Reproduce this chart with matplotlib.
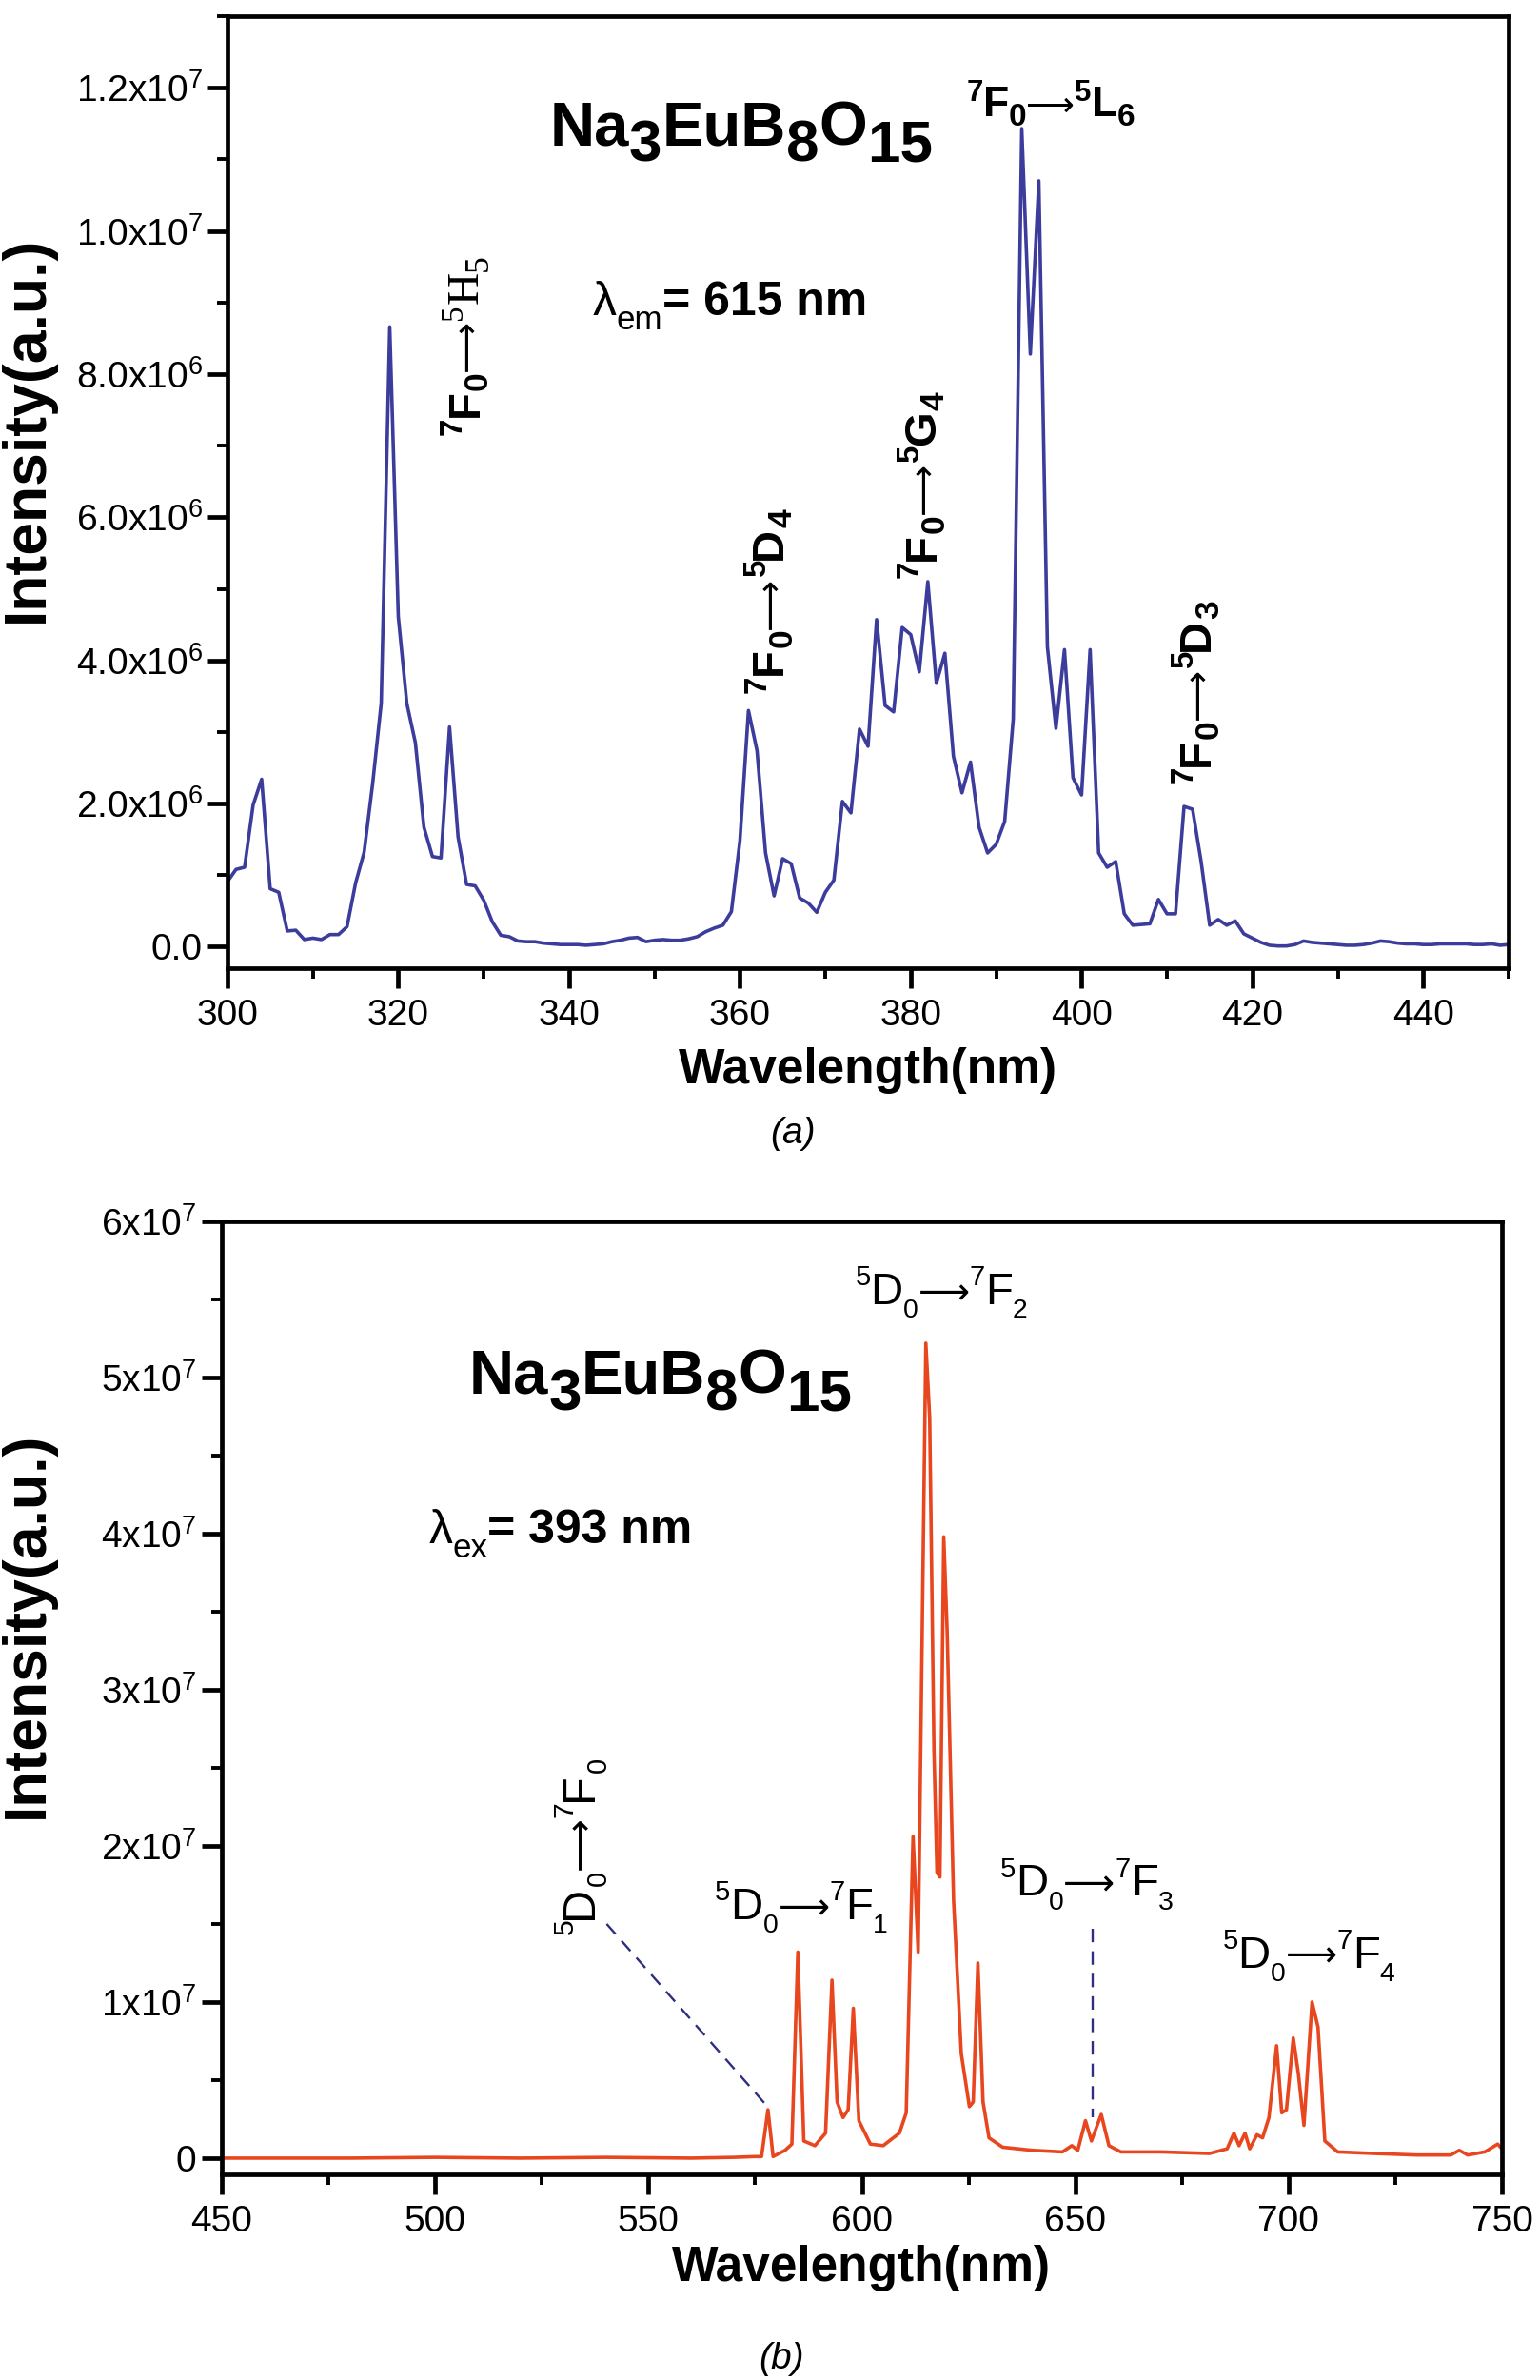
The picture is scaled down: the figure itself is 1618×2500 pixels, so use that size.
import matplotlib
matplotlib.use('Agg')
import matplotlib.pyplot as plt
import numpy as np
from matplotlib.ticker import MultipleLocator, FuncFormatter

plt.rcParams['font.family'] = ['Liberation Sans', 'DejaVu Sans']
plt.rcParams['mathtext.fontset'] = 'custom'
plt.rcParams['mathtext.rm'] = 'Liberation Sans'
plt.rcParams['mathtext.it'] = 'Liberation Sans:italic'
plt.rcParams['mathtext.bf'] = 'Liberation Sans:bold'

# (a) excitation spectrum, lambda_em = 615 nm, intensity in 1e6
exc_wl = list(range(300, 451))
exc_int = [0.91, 1.08, 1.11, 1.98, 2.34, 0.81, 0.76, 0.22, 0.23, 0.10,
           0.12, 0.10, 0.17, 0.17, 0.28, 0.89, 1.32, 2.28, 3.40, 8.66,
           4.61, 3.40, 2.85, 1.67, 1.26, 1.24, 3.07, 1.53, 0.87, 0.85,
           0.65, 0.35, 0.16, 0.14, 0.08, 0.07, 0.07, 0.05, 0.04, 0.03,
           0.03, 0.03, 0.02, 0.03, 0.04, 0.07, 0.09, 0.12, 0.13, 0.07,
           0.09, 0.10, 0.09, 0.09, 0.11, 0.14, 0.21, 0.26, 0.30, 0.49,
           1.48, 3.30, 2.74, 1.31, 0.71, 1.23, 1.16, 0.68, 0.61, 0.48,
           0.76, 0.93, 2.03, 1.87, 3.04, 2.80, 4.57, 3.37, 3.28, 4.46,
           4.36, 3.84, 5.10, 3.68, 4.10, 2.66, 2.15, 2.58, 1.67, 1.31,
           1.43, 1.75, 3.18, 11.43, 8.28, 10.70, 4.19, 3.05, 4.15, 2.36,
           2.12, 4.15, 1.31, 1.11, 1.19, 0.46, 0.30, 0.31, 0.32, 0.66,
           0.46, 0.46, 1.96, 1.92, 1.19, 0.30, 0.38, 0.30, 0.36, 0.18,
           0.12, 0.06, 0.02, 0.01, 0.01, 0.03, 0.08, 0.06, 0.05, 0.04,
           0.03, 0.02, 0.02, 0.03, 0.05, 0.08, 0.07, 0.05, 0.04, 0.04,
           0.03, 0.03, 0.04, 0.04, 0.04, 0.04, 0.03, 0.03, 0.04, 0.02,
           0.03]

# (b) emission spectrum, lambda_ex = 393 nm, intensity in 1e7
em_wl = [450, 480, 500, 520, 540, 560, 570, 575, 576.5, 578, 579.2, 582, 583.6,
         585, 586.4, 589, 591.5, 593, 594.2, 595.6, 596.8, 598, 599.3, 602, 605,
         608.8, 610.4, 612, 613.2, 615, 615.9, 616.9, 617.6, 618.3, 619.2, 620,
         621.5, 623.3, 625.2, 626.1, 627.2, 628.4, 629.8, 633, 640, 647, 649.2,
         650.6, 652.4, 653.8, 656.1, 657.9, 660.7, 670, 681.5, 685.6, 687.2,
         688.4, 689.8, 690.9, 692.6, 693.9, 695.4, 697.2, 698.4, 699.5, 701.1,
         702.3, 703.6, 705.5, 706.9, 708.5, 711.5, 720, 730, 738, 740, 742, 746,
         749, 750]
em_int = [0.0, 0.0, 0.005, 0.0, 0.005, 0.0, 0.005, 0.01, 0.01, 0.31, 0.01, 0.05,
          0.09, 1.32, 0.11, 0.08, 0.16, 1.14, 0.36, 0.26, 0.31, 0.96, 0.24, 0.09,
          0.08, 0.16, 0.29, 2.06, 1.32, 5.22, 4.74, 2.61, 1.83, 1.80, 3.98, 3.37,
          1.65, 0.67, 0.33, 0.36, 1.25, 0.36, 0.13, 0.07, 0.05, 0.04, 0.08, 0.05,
          0.24, 0.11, 0.28, 0.08, 0.04, 0.04, 0.03, 0.06, 0.16, 0.08, 0.16, 0.06,
          0.15, 0.13, 0.26, 0.72, 0.29, 0.31, 0.77, 0.54, 0.21, 1.00, 0.84, 0.11,
          0.04, 0.03, 0.02, 0.02, 0.05, 0.02, 0.04, 0.09, 0.06]

# guide lines in panel (b): (x0, x1), (y0, y1) in nm / 1e7
f0_guide = ([540.2, 577.9], [1.50, 0.33])
f3_guide = ([654.2, 654.2], [1.47, 0.26])

W, H = 1618, 2500
fig = plt.figure(figsize=(W / 100, H / 100), dpi=100)
ax1 = fig.add_axes([239 / W, 1 - 1017 / H, 1346 / W, 1000 / H])
ax2 = fig.add_axes([233 / W, 1 - 2284 / H, 1345 / W, 1001 / H])

ax1.plot(exc_wl, np.array(exc_int) * 1e6, color='#3c3c9c', lw=2.6)
ax2.plot(em_wl, np.array(em_int) * 1e7, color='#e8461e', lw=2.6)
for g in (f0_guide, f3_guide):
    ax2.plot(g[0], np.array(g[1]) * 1e7, color='#2e2e80', lw=1.7, ls=(0, (6, 4)))

ax1.set_xlim(300, 450)
ax1.set_ylim(-3e5, 1.3e7)
ax2.set_xlim(450, 750)
ax2.set_ylim(-1.04e6, 6e7)


def fmt_a(v, pos):
    if v < -1:
        return ''
    if abs(v) < 1:
        return '0.0'
    e = int(np.floor(np.log10(v)))
    return '%.1fx10$^{%d}$' % (v / 10 ** e, e)


def fmt_b(v, pos):
    if v < -1:
        return ''
    if abs(v) < 1:
        return '0'
    return '%dx10$^{7}$' % round(v / 1e7)


for ax in (ax1, ax2):
    for s in ax.spines.values():
        s.set_linewidth(3.4)
    ax.tick_params(which='both', direction='out', top=False, right=False,
                   labelsize=28, width=3.4)
    ax.tick_params(which='major', length=15)
    ax.tick_params(which='minor', length=8, width=2.8)
    ax.tick_params(axis='x', pad=8)
    ax.tick_params(axis='y', pad=4)

ax1.xaxis.set_major_locator(MultipleLocator(20))
ax1.xaxis.set_minor_locator(MultipleLocator(10))
ax1.yaxis.set_major_locator(MultipleLocator(2e6))
ax1.yaxis.set_minor_locator(MultipleLocator(1e6))
ax1.yaxis.set_major_formatter(FuncFormatter(fmt_a))
ax2.xaxis.set_major_locator(MultipleLocator(50))
ax2.xaxis.set_minor_locator(MultipleLocator(25))
ax2.yaxis.set_major_locator(MultipleLocator(1e7))
ax2.yaxis.set_minor_locator(MultipleLocator(5e6))
ax2.yaxis.set_major_formatter(FuncFormatter(fmt_b))

renderer = fig.canvas.get_renderer()


def rich(ax, x, y, parts, size, rot=0, weight='bold'):
    # lay out pieces one after another, with raised / lowered pieces
    px, py = ax.transData.transform((x, y))
    em = size * 100 / 72
    pos = 0
    for p in parts:
        s, scale, shift = p[:3]
        kw = dict(fontweight=weight)
        if len(p) > 3:
            kw.update(p[3])
        if rot == 0:
            tx, ty = px + pos, py + shift * em
        else:
            tx, ty = px - shift * em, py + pos
        t = fig.text(tx / W, ty / H, s, fontsize=size * scale, rotation=rot,
                     rotation_mode='anchor', ha='left', va='baseline', **kw)
        bb = t.get_window_extent(renderer)
        pos += bb.width if rot == 0 else bb.height


SUP = (0.7, 0.36)
SUB = (0.75, -0.21)
ARROW = ('\u27f6', 0.8, 0.02, {'family': ['DejaVu Sans'], 'fontweight': 'normal'})
serif = {'family': ['Liberation Serif', 'DejaVu Serif'], 'fontweight': 'normal'}


def trans(a, c, d, sup=SUP, sub=SUB, last_kw=None):
    tail = [(c, *sup), (d[0], 1, 0), (d[1], *sub)]
    if last_kw:
        tail = [t + (last_kw,) for t in tail]
    return [(a[0], *sup), (a[1], 1, 0), (a[2], *sub), ARROW] + tail


formula = [('Na', 1, 0), ('3', 0.95, -0.27), ('EuB', 1, 0), ('8', 0.95, -0.27),
           ('O', 1, 0), ('15', 0.95, -0.27)]

# panel (a) texts
rich(ax1, 337.7, 11.2e6, formula, 47)
rich(ax1, 342.7, 8.83e6, [('\u03bb', 1, 0, {'fontweight': 'normal'}),
                          ('em', 0.7, -0.3, {'fontweight': 'normal'}),
                          ('= 615 nm', 1, 0)], 36)
rich(ax1, 386.5, 11.6e6, trans('7F0', '5', 'L6'), 32)
rich(ax1, 329.3, 7.15e6, trans('7F0', '5', 'H5', last_kw=serif), 34, rot=90)
rich(ax1, 364.9, 3.55e6, trans('7F0', '5', 'D4'), 34, rot=90)
rich(ax1, 382.8, 5.15e6, trans('7F0', '5', 'G4'), 34, rot=90)
rich(ax1, 414.9, 2.28e6, trans('7F0', '5', 'D3'), 34, rot=90)

# panel (b) texts
SUPb = (0.62, 0.42)
SUBb = (0.6, -0.3)
rich(ax2, 508, 4.9e7, formula, 47)
rich(ax2, 498.5, 3.94e7, [('\u03bb', 1, 0, {'fontweight': 'normal'}),
                          ('ex', 0.7, -0.3, {'fontweight': 'normal'}),
                          ('= 393 nm', 1, 0)], 36)
for lx, ly, n in [(598.4, 5.47e7, '2'), (565.6, 1.53e7, '1'),
                  (632.5, 1.68e7, '3'), (684.5, 1.22e7, '4')]:
    rich(ax2, lx, ly, trans('5D0', '7', 'F' + n, SUPb, SUBb), 34, weight='normal')
rich(ax2, 536.8, 1.43e7, trans('5D0', '7', 'F0', SUPb, SUBb), 35, rot=90,
     weight='normal')

# axis titles
fig.text(912 / W, 1 - 1138 / H, 'Wavelength(nm)', fontsize=37, fontweight='bold',
         ha='center', va='baseline')
fig.text(905 / W, 1 - 2396 / H, 'Wavelength(nm)', fontsize=37, fontweight='bold',
         ha='center', va='baseline')
fig.text(28 / W, 1 - 451 / H, 'Intensity(a.u.)', fontsize=45, fontweight='bold',
         rotation=90, ha='center', va='center')
fig.text(28 / W, 1 - 1707 / H, 'Intensity(a.u.)', fontsize=45, fontweight='bold',
         rotation=90, ha='center', va='center')
fig.text(833 / W, 1 - 1191 / H, '(a)', fontsize=28, style='italic',
         ha='center', va='center')
fig.text(821 / W, 1 - 2478 / H, '(b)', fontsize=28, style='italic',
         ha='center', va='center')

fig.savefig('out.png', dpi=100)
